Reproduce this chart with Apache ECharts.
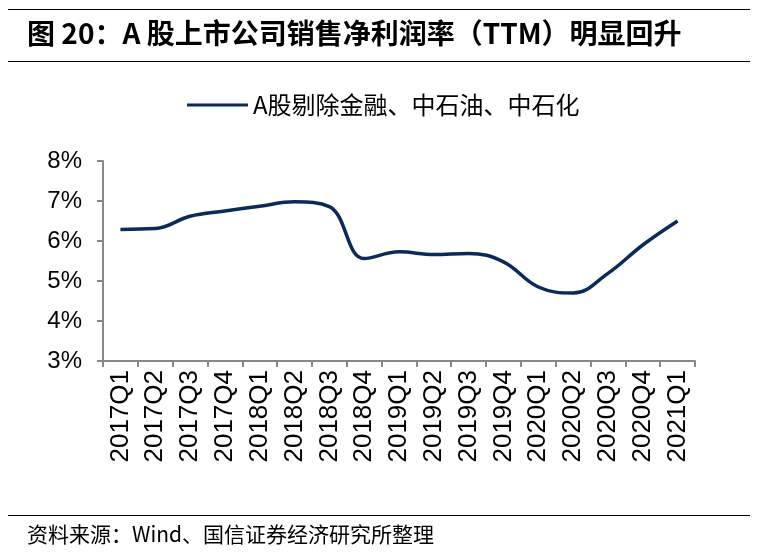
<!DOCTYPE html>
<html>
<head>
<meta charset="utf-8">
<script src="https://cdn.jsdelivr.net/npm/echarts@6/dist/echarts.min.js"></script>
<style>
  html, body { margin: 0; padding: 0; background: #fff; }
  #main { width: 758px; height: 556px; }
</style>
</head>
<body>
<div id="main"></div>
<script>
const quarters = ['2017Q1', '2017Q2', '2017Q3', '2017Q4', '2018Q1', '2018Q2', '2018Q3', '2018Q4',
  '2019Q1', '2019Q2', '2019Q3', '2019Q4', '2020Q1', '2020Q2', '2020Q3', '2020Q4', '2021Q1'];
// 销售净利润率（TTM），单位 %
const netMargin = [6.29, 6.31, 6.62, 6.75, 6.87, 6.98, 6.86, 5.56,
  5.73, 5.66, 5.69, 5.48, 4.85, 4.70, 5.19, 5.90, 6.50];
const seriesName = 'A股剔除金融、中石油、中石化';
const titleText = '图 20：A 股上市公司销售净利润率（TTM）明显回升';
const sourceText = '资料来源：Wind、国信证券经济研究所整理';

const cjk = '"Noto Sans CJK SC", "Liberation Sans", Arial, sans-serif';
const latin = '"Liberation Sans", Arial, "Noto Sans CJK SC", sans-serif';

const chart = echarts.init(document.getElementById('main'), null, { renderer: 'canvas' });

const option = {
    backgroundColor: '#fff',
    animation: false,
    graphic: [
        { type: 'line', shape: { x1: 8, y1: 9.5, x2: 750, y2: 9.5 }, style: { stroke: '#000', lineWidth: 1 } },
        { type: 'line', shape: { x1: 8, y1: 61.5, x2: 750, y2: 61.5 }, style: { stroke: '#000', lineWidth: 1 } },
        { type: 'line', shape: { x1: 8, y1: 515.5, x2: 750, y2: 515.5 }, style: { stroke: '#000', lineWidth: 1 } },
        {
            type: 'text', left: 27, top: 19,
            style: { text: titleText, font: 'bold 28px ' + cjk, fill: '#000' }
        },
        {
            type: 'text', left: 27, top: 524,
            style: { text: sourceText, font: '21px ' + cjk, fill: '#000' }
        }
    ],
    legend: {
        data: [seriesName],
        left: 182,
        top: 88,
        icon: 'rect',
        itemWidth: 61,
        itemHeight: 3,
        itemGap: 10,
        textStyle: { fontSize: 24, color: '#000', fontFamily: cjk, padding: [0, 0, 0, 0] }
    },
    grid: {
        left: 103,
        right: 63,
        top: 161,
        bottom: 195,
        containLabel: false
    },
    xAxis: {
        type: 'category',
        data: quarters,
        boundaryGap: true,
        axisLine: { lineStyle: { color: '#888', width: 2 } },
        axisTick: { show: true, length: 6, alignWithLabel: false, lineStyle: { color: '#888', width: 2 } },
        axisLabel: {
            rotate: 90,
            interval: 0,
            margin: 9,
            fontSize: 26,
            color: '#000',
            fontFamily: latin
        },
        splitLine: { show: false }
    },
    yAxis: {
        type: 'value',
        min: 3,
        max: 8,
        interval: 1,
        axisLine: { show: true, lineStyle: { color: '#888', width: 2 } },
        axisTick: { show: true, length: 6, lineStyle: { color: '#888', width: 2 } },
        axisLabel: {
            margin: 21,
            fontSize: 24,
            color: '#000',
            fontFamily: latin,
            formatter: v => v + '%'
        },
        splitLine: { show: false }
    },
    series: [
        {
            name: seriesName,
            type: 'line',
            data: netMargin,
            smooth: 0.4,
            symbol: 'none',
            lineStyle: { color: '#0a2a5a', width: 3.5 },
            itemStyle: { color: '#0a2a5a' }
        }
    ]
};

chart.setOption(option);
</script>
</body>
</html>
